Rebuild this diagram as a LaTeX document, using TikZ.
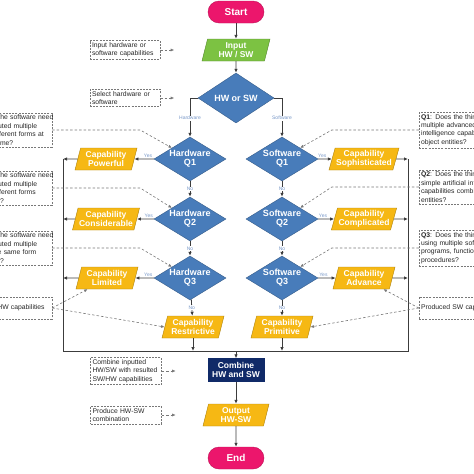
\documentclass[tikz,border=0pt]{standalone}
\usepackage{fontspec}
\setmainfont{Liberation Sans}
\usepackage{xcolor}
\usepackage{tikz}
\usetikzlibrary{positioning,%
  shapes.geometric,%
  arrows.meta,%
  calc
}

\definecolor{startpink}{RGB}{236,22,108}
\definecolor{inputgreen}{RGB}{124,194,66}
\definecolor{decblue}{RGB}{72,124,186}
\definecolor{capyellow}{RGB}{246,184,20}
\definecolor{combnavy}{RGB}{16,42,104}
\definecolor{labblue}{RGB}{120,152,200}
\definecolor{notegray}{RGB}{120,120,120}
\definecolor{flowgray}{RGB}{60,60,60}

\newcommand{\jl}[1]{\makebox[\linewidth][s]{#1}}

\tikzset{
  terminal/.style={rectangle, rounded corners=11pt, fill=startpink, draw=startpink!80!black,
    text=white, font=\bfseries\fontsize{10}{10}\selectfont, minimum width=56pt, minimum height=22pt},
  iodata/.style={trapezium, trapezium left angle=72, trapezium right angle=108,
    trapezium stretches body, fill=capyellow, draw=capyellow!70!black, text=white,
    font=\bfseries\fontsize{8.5}{9}\selectfont, align=center, inner sep=1pt,
    minimum width=62pt, minimum height=22pt},
  decision/.style={diamond, aspect=1.65, fill=decblue, draw=decblue!75!black, text=white,
    font=\bfseries\fontsize{9}{9}\selectfont, align=center, inner sep=0pt,
    minimum width=72pt, minimum height=44pt},
  process/.style={rectangle, fill=combnavy, draw=combnavy, text=white,
    font=\bfseries\fontsize{8.5}{9.5}\selectfont, align=center, minimum width=56pt, minimum height=23pt},
  note/.style={rectangle, draw=notegray, dash pattern=on 2pt off 1.2pt, text=black!85,
    font=\fontsize{6.8}{8.4}\selectfont, align=left, inner sep=2pt},
  flow/.style={draw=flowgray, line width=0.8pt, -{Latex[length=4pt,width=3.5pt]}},
  bus/.style={draw=flowgray, line width=0.8pt},
  notearrow/.style={draw=notegray, line width=0.6pt, dash pattern=on 2.5pt off 2pt,
    -{Latex[length=3.5pt,width=3pt]}},
  lab/.style={text=labblue, font=\fontsize{5}{5}\selectfont, inner sep=0.6pt, fill=white}
}

\begin{document}
\begin{tikzpicture}[x=1pt,y=-1pt]
\useasboundingbox (0,0) rectangle (474,474);
\clip (0,0) rectangle (474,474);

% main column
\node[terminal] (start) at (236,12) {Start};
\node[iodata, fill=inputgreen, draw=inputgreen!70!black, minimum width=68pt] (input) at (236,50) {Input\\HW / SW};
\node[decision, minimum width=76pt, minimum height=50pt] (hwsw) at (236,98) {HW or SW};

% hardware branch
\node[decision] (hwqa) at (190,159) {Hardware\\Q1};
\node[decision] (hwqb) at (190,219) {Hardware\\Q2};
\node[decision] (hwqc) at (190,278) {Hardware\\Q3};
\node[iodata] (capPowerful) at (106,159) {Capability\\Powerful};
\node[iodata] (capConsiderable) at (106,219) {Capability\\Considerable};
\node[iodata] (capLimited) at (107,278) {Capability\\Limited};
\node[iodata] (capRestrictive) at (193,327) {Capability\\Restrictive};

% software branch
\node[decision] (swqa) at (282,159) {Software\\Q1};
\node[decision] (swqb) at (282,219) {Software\\Q2};
\node[decision] (swqc) at (282,278) {Software\\Q3};
\node[iodata] (capSophisticated) at (364,159) {Capability\\Sophisticated};
\node[iodata] (capComplicated) at (364,219) {Capability\\Complicated};
\node[iodata] (capAdvance) at (364,278) {Capability\\Advance};
\node[iodata] (capPrimitive) at (282,327) {Capability\\Primitive};

% end part
\node[process] (combine) at (236,370) {Combine\\HW and SW};
\node[iodata, minimum width=66pt] (output) at (236,415) {Output\\HW-SW};
\node[terminal] (end) at (236,458) {End};

% bus corners
\coordinate (hwbusA) at (63,159);
\coordinate (hwbusB) at (63,219);
\coordinate (hwbusC) at (63,278);
\coordinate (hwbusD) at (63,351);
\coordinate (swbusA) at (408,159);
\coordinate (swbusB) at (408,219);
\coordinate (swbusC) at (408,278);
\coordinate (swbusD) at (408,351);

% notes
\node[note, text width=66pt] (noteInput) at (125,50) {Input hardware or\\software capabilities};
\node[note, text width=66pt] (noteSelect) at (125,98) {Select hardware or\\software};
\node[note, text width=67pt] (noteCombine) at (126,371) {Combine inputted\\HW/SW with resulted\\SW/HW capabilities};
\node[note, text width=67pt] (noteProduce) at (126,415) {Produce HW-SW\\combination};

\node[note, text width=84pt] (noteHa) at (8,130) {\jl{Q1: Does the software need}\\\jl{to be executed multiple}\\\jl{times in different forms at}\\the same time?};
\node[note, text width=84pt] (noteHb) at (8,188) {\jl{Q2: Does the software need}\\\jl{to be executed multiple}\\\jl{times in different forms}\\in one time?};
\node[note, text width=84pt] (noteHc) at (8,248) {\jl{Q3: Does the software need}\\\jl{to be executed multiple}\\\jl{times in the same form}\\in one time?};
\node[note, text width=84pt, minimum height=22pt] (noteHd) at (8,308) {Produced HW capabilities};

\node[note, text width=84pt] (noteSa) at (463,130) {\jl{\textbf{Q1}: Does the thing need}\\\jl{multiple advanced artificial}\\\jl{intelligence capabilities in}\\object entities?};
\node[note, text width=84pt] (noteSb) at (463,187) {\jl{\textbf{Q2}: Does the thing need}\\\jl{simple artificial intelligence}\\\jl{capabilities combined}\\entities?};
\node[note, text width=84pt] (noteSc) at (463,248) {\jl{\textbf{Q3}: Does the thing need}\\\jl{using multiple software}\\\jl{programs, functions or}\\procedures?};
\node[note, text width=84pt, minimum height=22pt] (noteSd) at (463,308) {Produced SW capabilities};

% main flow
\draw[flow] (start) -- (input);
\draw[flow] (input) -- (hwsw);
\draw[flow] (hwsw.west) -| node[lab, pos=0.76] {Hardware} (hwqa.north);
\draw[flow] (hwsw.east) -| node[lab, pos=0.76] {Software} (swqa.north);

\draw[flow] (hwqa) -- node[lab] {No} (hwqb);
\draw[flow] (hwqb) -- node[lab] {No} (hwqc);
\draw[flow] (hwqc) -- node[lab] {No} (capRestrictive);
\draw[flow] (swqa) -- node[lab] {No} (swqb);
\draw[flow] (swqb) -- node[lab] {No} (swqc);
\draw[flow] (swqc) -- node[lab] {No} (capPrimitive);

\draw[flow] (hwqa) -- node[lab, above, fill=none, pos=0.3] {Yes} (capPowerful);
\draw[flow] (hwqb) -- node[lab, above, fill=none, pos=0.3] {Yes} (capConsiderable);
\draw[flow] (hwqc) -- node[lab, above, fill=none, pos=0.3] {Yes} (capLimited);
\draw[flow] (swqa) -- node[lab, above, fill=none, pos=0.3] {Yes} (capSophisticated);
\draw[flow] (swqb) -- node[lab, above, fill=none, pos=0.3] {Yes} (capComplicated);
\draw[flow] (swqc) -- node[lab, above, fill=none, pos=0.3] {Yes} (capAdvance);

% collecting lines
\draw[bus] (hwbusA) -- (hwbusD) -- (swbusD) -- (swbusA);
\draw[flow] (capPowerful) -- (hwbusA);
\draw[flow] (capConsiderable) -- (hwbusB);
\draw[flow] (capLimited) -- (hwbusC);
\draw[flow] (capSophisticated) -- (swbusA);
\draw[flow] (capComplicated) -- (swbusB);
\draw[flow] (capAdvance) -- (swbusC);
\draw[flow] (capRestrictive) -- (capRestrictive |- hwbusD);
\draw[flow] (capPrimitive) -- (capPrimitive |- hwbusD);
\draw[flow] (combine |- hwbusD) -- (combine);
\draw[flow] (combine) -- (output);
\draw[flow] (output) -- (end);

% note links
\draw[notearrow] (noteInput.east) -- +(14,0);
\draw[notearrow] (noteSelect.east) -- +(14,0);
\draw[notearrow] (noteCombine.east) -- +(14,0);
\draw[notearrow] (noteProduce.east) -- +(14,0);
\draw[notearrow] (noteHa.east) -- +(88,0) -- (hwqa.north west);
\draw[notearrow] (noteHb.east) -- +(88,0) -- (hwqb.north west);
\draw[notearrow] (noteHc.east) -- +(88,0) -- (hwqc.north west);
\draw[notearrow] (noteHd.east) -- (capLimited.210);
\draw[notearrow] (noteHd.east) -- (capRestrictive.west);
\draw[notearrow] (noteSa.west) -- +(-87,0) -- (swqa.north east);
\draw[notearrow] (noteSb.west) -- +(-87,0) -- (swqb.north east);
\draw[notearrow] (noteSc.west) -- +(-87,0) -- (swqc.north east);
\draw[notearrow] (noteSd.west) -- (capAdvance.330);
\draw[notearrow] (noteSd.west) -- (capPrimitive.east);
\end{tikzpicture}
\end{document}
